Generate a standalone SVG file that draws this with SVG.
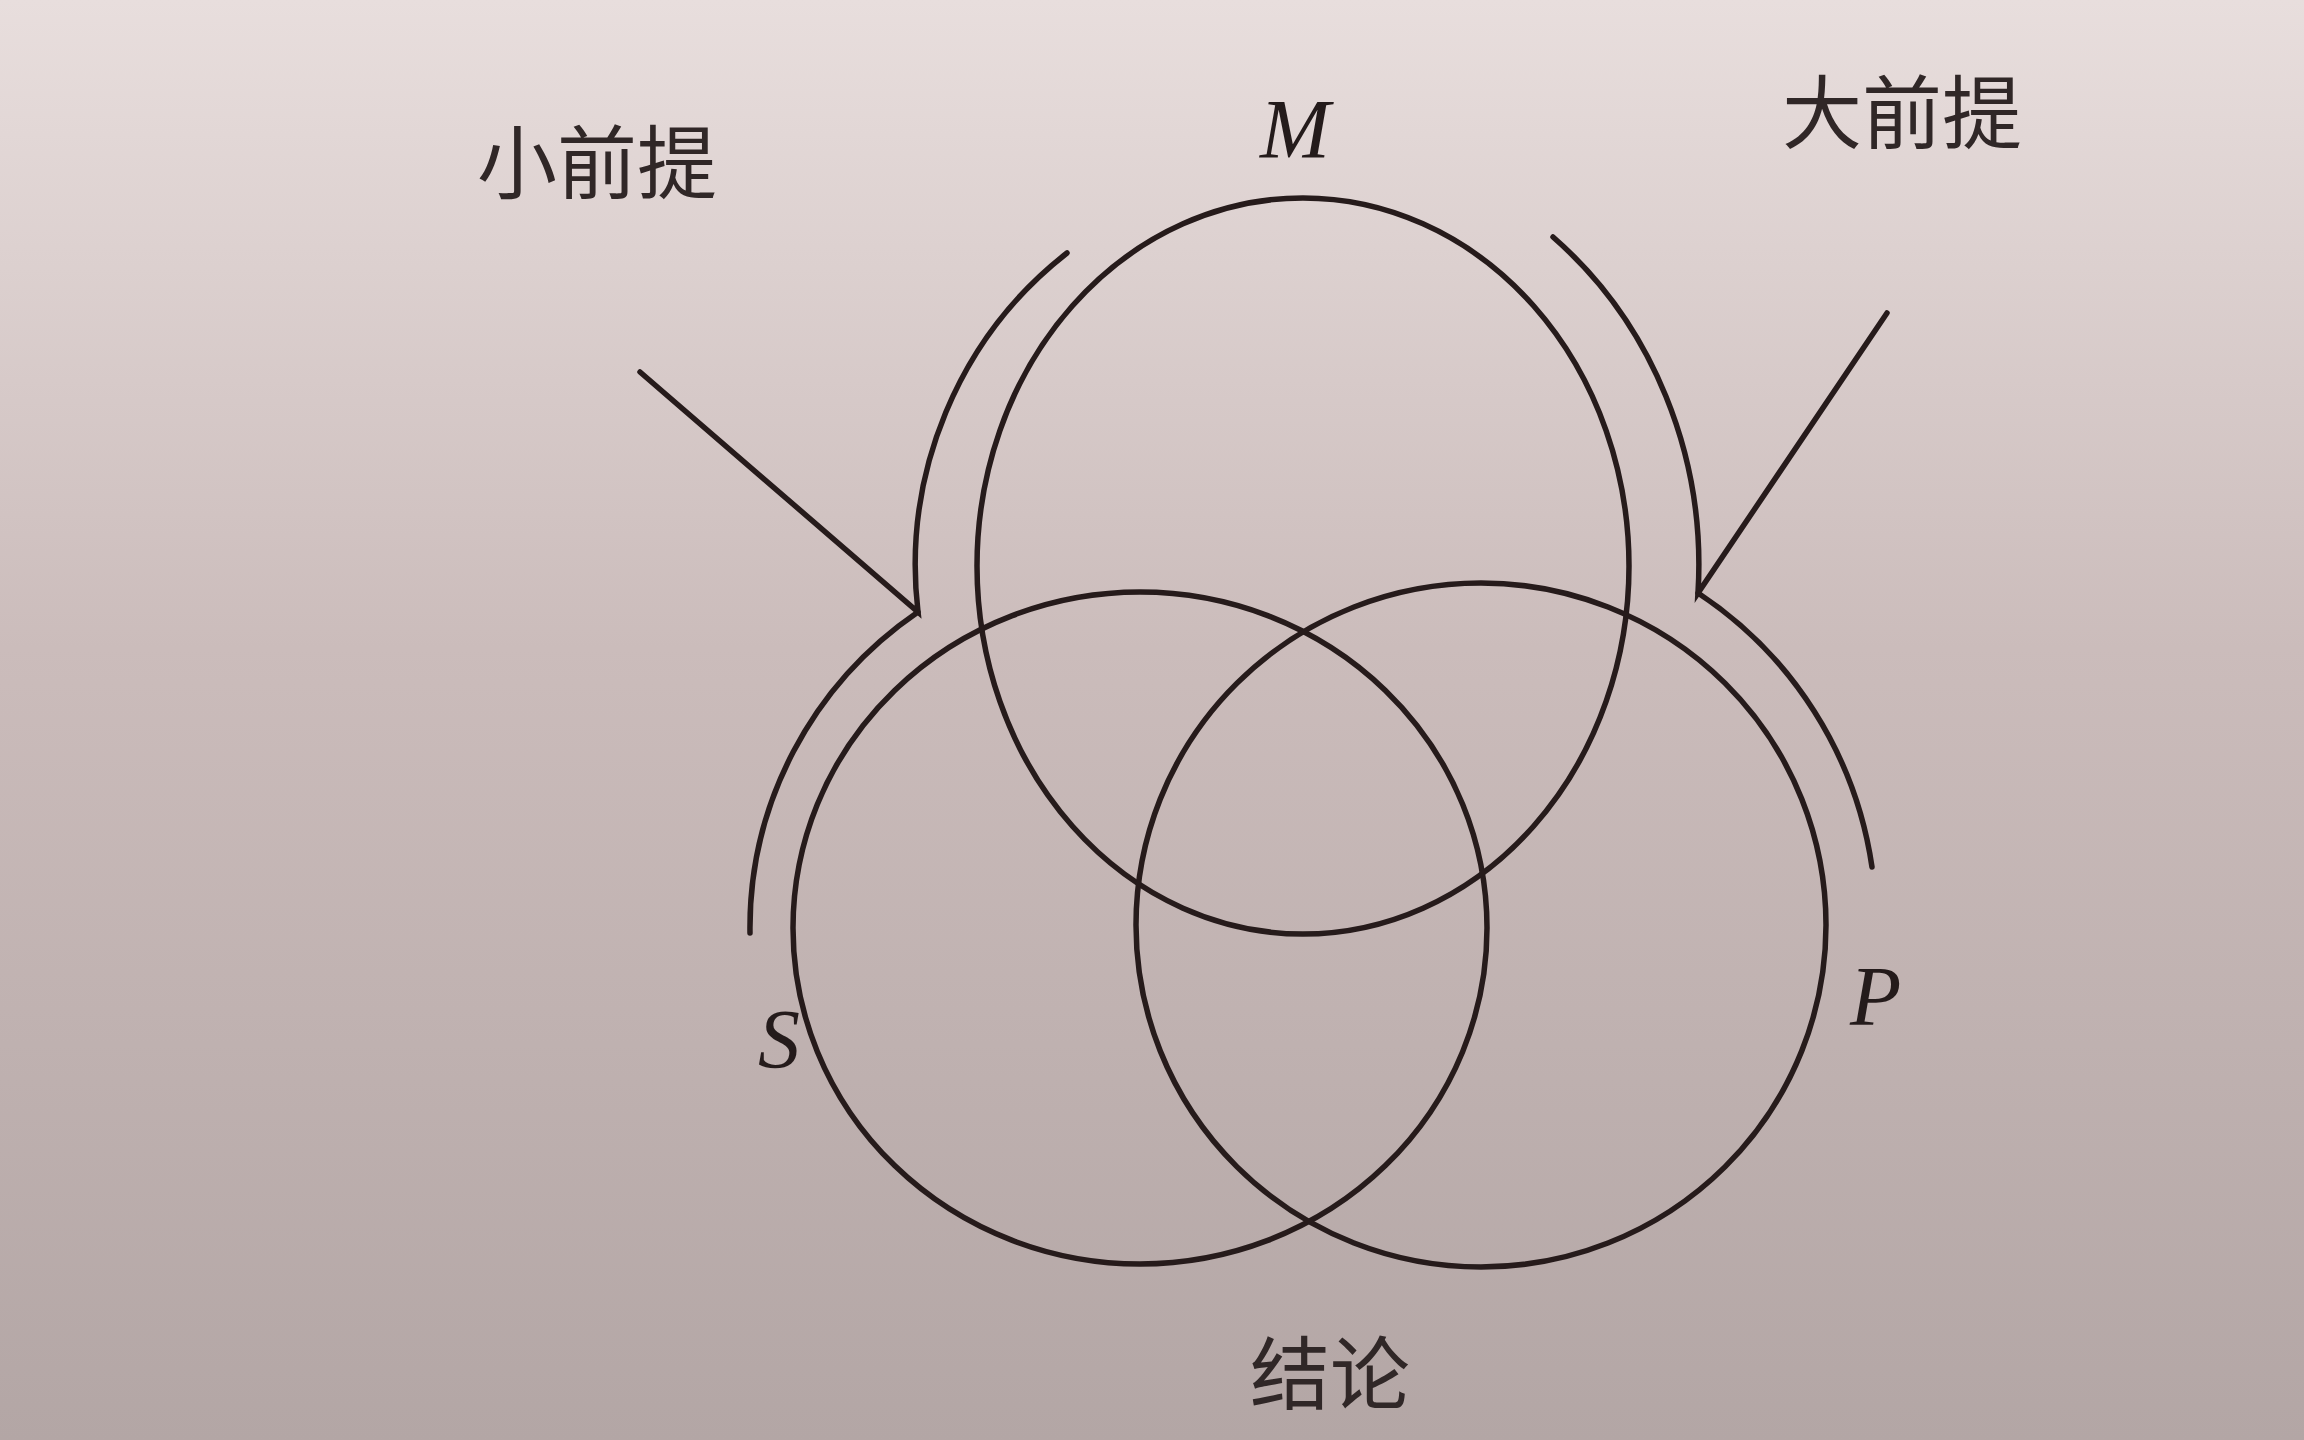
<svg xmlns="http://www.w3.org/2000/svg" width="2304" height="1440" viewBox="0 0 2304 1440">
  <defs>
    <linearGradient id="bg" x1="0" y1="0" x2="0" y2="1">
      <stop offset="0" stop-color="#e8dedd"/>
      <stop offset="0.45" stop-color="#cbbcbb"/>
      <stop offset="1" stop-color="#b3a6a5"/>
    </linearGradient>
    <style>
      .ln { fill: none; stroke: #261b1b; stroke-width: 5.5; stroke-linecap: round; stroke-linejoin: miter; }
      .cjk { font-family: "Noto Sans CJK SC", "Noto Sans", sans-serif; font-size: 80px; font-weight: normal; fill: #302727; text-anchor: middle; }
      .var { font-family: "Liberation Serif", "DejaVu Serif", serif; font-style: italic; font-weight: normal; font-size: 84px; fill: #241b1b; }
    </style>
  </defs>
  <rect x="0" y="0" width="2304" height="1440" fill="url(#bg)"/>

  <g id="circle-M">
    <ellipse class="ln" cx="1303" cy="566" rx="326" ry="368"/>
    <text class="var" x="1260" y="158">M</text>
  </g>
  <g id="circle-S">
    <ellipse class="ln" cx="1140" cy="928" rx="347" ry="336"/>
    <text class="var" x="758" y="1068">S</text>
  </g>
  <g id="circle-P">
    <ellipse class="ln" cx="1481" cy="925" rx="345" ry="342"/>
    <text class="var" x="1850" y="1025">P</text>
  </g>

  <g id="label-minor">
    <text class="cjk" x="597" y="192">小前提</text>
  </g>
  <g id="label-major">
    <text class="cjk" x="1902" y="142">大前提</text>
  </g>
  <g id="label-conclusion">
    <text class="cjk" x="1330" y="1403">结论</text>
  </g>

  <g id="connectors">
    <path class="ln" d="M 1067 253 A 388 394 0 0 0 918 612 L 640 372"/>
    <path class="ln" d="M 918 612 A 390 384 0 0 0 750 933"/>
    <path class="ln" d="M 1553 237 A 397 424 0 0 1 1698 593 L 1887 313"/>
    <path class="ln" d="M 1698 593 A 395 397 0 0 1 1872 867"/>
  </g>
</svg>
